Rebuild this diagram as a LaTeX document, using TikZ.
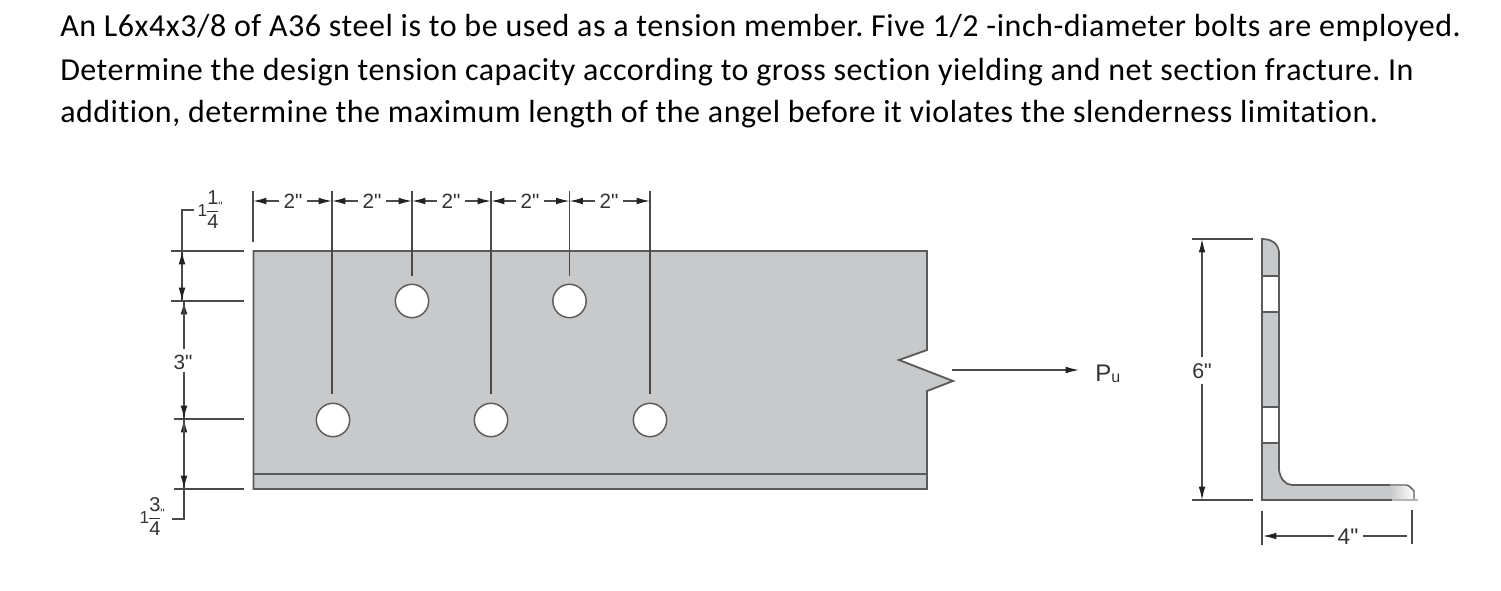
\documentclass[tikz,border=0pt]{standalone}
\usepackage{fontspec}
\setmainfont{Liberation Sans}[Ligatures=TeXOff]
\newfontfamily\headfont{Carlito}[Ligatures={TeXOff,NoCommon},LetterSpace=1.6]
\newfontfamily\headwide{Carlito}[Ligatures={TeXOff,NoCommon},LetterSpace=1.75]
\usetikzlibrary{arrows.meta}
\definecolor{plategray}{HTML}{C8C9CA}
\definecolor{edgegray}{HTML}{5A5B5C}
\definecolor{dimgray}{HTML}{4A4A4A}
\definecolor{tipgray}{HTML}{222222}
\definecolor{labelgray}{HTML}{333333}
\definecolor{headink}{HTML}{000000}
\newcommand{\stackfrac}[2]{$\vcenter{\hbox{\renewcommand{\arraystretch}{0.8}\setlength{\tabcolsep}{0pt}\setlength{\arrayrulewidth}{0.9pt}\begin{tabular}{c}#1\\[1pt]\hline\noalign{\vskip1.5pt}#2\end{tabular}}}$}
\tikzset{
  headline/.style={anchor=base west,inner sep=0,font=\headfont\fontsize{24}{26}\selectfont\frenchspacing,text=headink},
  widehead/.style={headline,font=\headwide\fontsize{24}{26}\selectfont\frenchspacing},
  steel/.style={draw=edgegray,line width=1.4pt,fill=plategray,line join=miter},
  extline/.style={draw=dimgray,line width=1.1pt},
  dimline/.style={draw=dimgray,line width=0.9pt},
  dimtip/.style={-{Latex[length=10pt,width=5pt,color=tipgray]},draw=dimgray,line width=0.9pt},
  hole/.style={circle,draw=edgegray,line width=1.1pt,fill=white,minimum size=25pt,inner sep=0},
  dimtext/.style={inner sep=0,text=labelgray,font=\fontsize{15.5}{17}\selectfont},
  fractext/.style={inner sep=0,text=labelgray,font=\fontsize{15}{16}\selectfont}
}
\begin{document}
\begin{tikzpicture}[x=0.75pt,y=-0.75pt]
\useasboundingbox (0,0) rectangle (1501,591);
% statement
\node[widehead] (l1) at (60,37) {An L6x4x3/8 of A36 steel is to be used as a tension member. Five 1/2 -inch-diameter bolts are employed.};
\node[headline] (l2) at (60,80.5) {Determine the design tension capacity according to gross section yielding and net section fracture. In};
\node[headline] (l3) at (60,123) {addition, determine the maximum length of the angel before it violates the slenderness limitation.};
% plate
\path[steel] (253.5,251) -- (927,251) -- (927,350) -- (899,360) -- (953,381) -- (927,391) -- (927,489) -- (253.5,489) -- cycle;
\draw[steel,fill=none] (253.5,474) -- (927,474);
% holes
\node[hole] (h1) at (333,420) {};
\node[hole] (h2) at (412,301) {};
\node[hole] (h3) at (491,420) {};
\node[hole] (h4) at (569.5,301) {};
\node[hole] (h5) at (650,420) {};
% extension lines
\coordinate (t0) at (253,191); \coordinate (t0b) at (253,242);
\coordinate (t1) at (332,191); \coordinate (t2) at (412,191); \coordinate (t3) at (491,191);
\coordinate (t4) at (569.5,191); \coordinate (t5) at (650,191);
\draw[extline] (t0) -- (t0b);
\draw[extline] (t1) -- (332,394);
\draw[extline] (t2) -- (412,276);
\draw[extline] (t3) -- (491,394);
\draw[extline] (t4) -- (569.5,276);
\draw[extline] (t5) -- (650,394);
% pitch dimensions
\foreach \n/\a/\b/\m in {p1/253/332/293,p2/332/412/372,p3/412/491/451,p4/491/569.5/530,p5/569.5/650/609}{
  \node[dimtext] (\n) at (\m,201) {2"};
  \draw[dimtip] (\n.west) ++(-4,0) -- (\a,201);
  \draw[dimtip] (\n.east) ++(4,0) -- (\b,201);
}
% left dimensions
\foreach \y/\a/\b in {251/171/244,301/171/244,419/174/244,489/174/244}{\draw[extline] (\a,\y) -- (\b,\y);}
\node[fractext] (f1) at (208,212) {{\fontsize{13}{14}\selectfont 1}\stackfrac{1}{4}\rlap{\raisebox{5pt}{\fontsize{9}{9}\selectfont"}}};
\node[fractext] (f2) at (150,519) {{\fontsize{13}{14}\selectfont 1}\stackfrac{3}{4}\rlap{\raisebox{5pt}{\fontsize{9}{9}\selectfont"}}};
\node[dimtext] (d3) at (183,362) {3"};
\draw[dimline] (194,210) -- (182,210) -- (182,301);
\draw[dimtip] (182,266) -- (182,251);
\draw[dimtip] (182,287) -- (182,301);
\draw[dimtip] (184,316) -- (184,301);
\draw[dimline] (184,301) -- (184,349);
\draw[dimline] (184,372) -- (184,419);
\draw[dimtip] (184,405) -- (184,419);
\draw[dimtip] (184,433) -- (184,419);
\draw[dimline] (184,419) -- (184,519) -- (172,519);
\draw[dimtip] (184,475) -- (184,489);
% load
\coordinate (pu0) at (952,370);
\node[inner sep=0,anchor=base west,text=labelgray,font=\fontsize{18}{19}\selectfont] (pu) at (1095,381) {P\raisebox{-1pt}{\fontsize{12}{13}\selectfont u}};
\draw[dimtip] (pu0) -- (1079,370);
% angle section
\path[steel,line width=1.3pt] (1262,239) .. controls (1271,239) and (1278,243) .. (1279,252) -- (1279,470) .. controls (1280,478) and (1285,485) .. (1292,485) -- (1406,485) .. controls (1410,485) and (1411,489) .. (1414,491) -- (1414,500) -- (1262,500) -- cycle;
\path[fill=white] (1390,478) rectangle (1420,503);
\path[left color=plategray,right color=white] (1390,486) -- (1408,486) .. controls (1410,486) and (1411,490) .. (1414,492) -- (1414,499.5) -- (1390,499.5) -- cycle;
\draw[edgegray,line width=1pt] (1389,485) -- (1406,485) .. controls (1410,485) and (1411,489) .. (1414,491) -- (1414,499);
\draw[edgegray,line width=1.3pt] (1389,500) -- (1392,500);
\draw[edgegray!45,line width=0.8pt] (1392,500) -- (1418,500);
\path[steel,fill=white,line width=1.1pt] (1262,276) rectangle (1279,312);
\path[steel,fill=white,line width=1.1pt] (1262,407) rectangle (1279,443);
% angle dims
\draw[extline] (1192,239) -- (1253,239);
\draw[extline] (1192,500) -- (1253,500);
\node[dimtext,font=\fontsize{16}{17}\selectfont] (d6) at (1202,371) {6"};
\draw[dimtip] (1202,357) -- (1202,239);
\draw[dimtip] (1202,384) -- (1202,500);
\draw[extline] (1262,511) -- (1262,545);
\draw[extline] (1412,510) -- (1412,544);
\node[dimtext,font=\fontsize{17}{18}\selectfont] (d4) at (1348,537) {4"};
\draw[dimtip] (d4.west) ++(-3,-1) -- (1263,536);
\draw[dimline] (d4.east) ++(4,-1) -- (1407,536);
\end{tikzpicture}
\end{document}
